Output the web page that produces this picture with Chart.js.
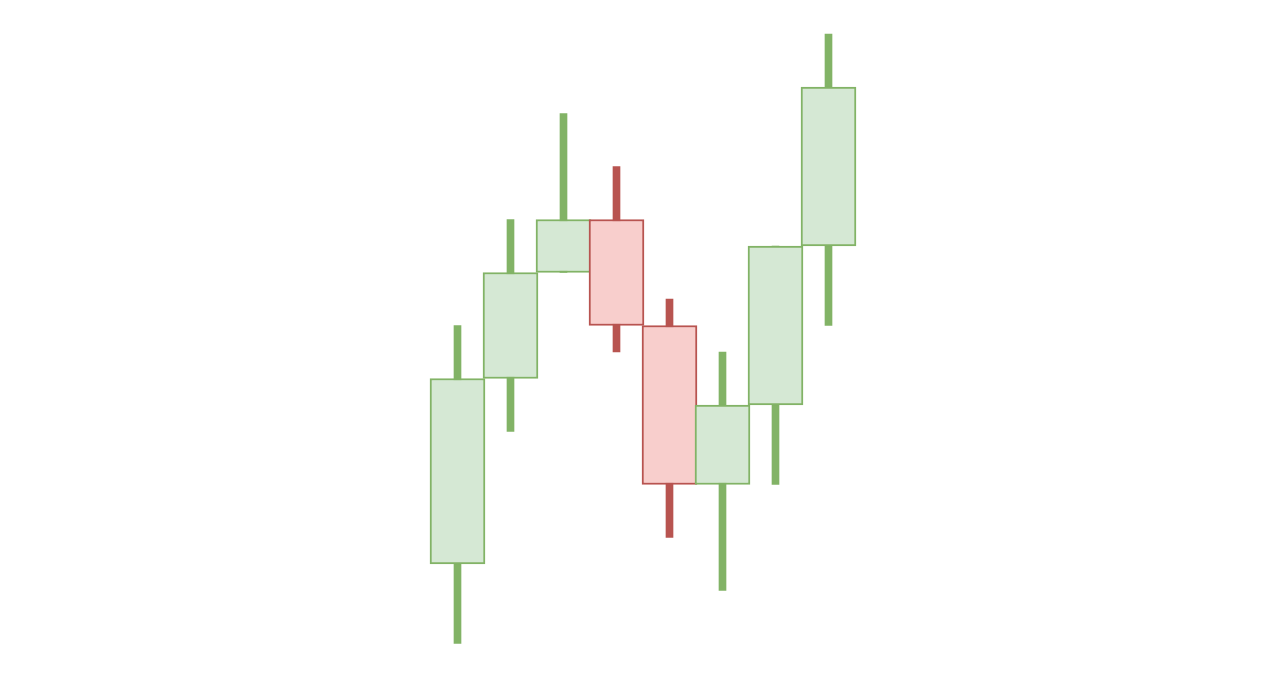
<!DOCTYPE html>
<html>
<head>
<meta charset="utf-8">
<script src="https://cdn.jsdelivr.net/npm/chart.js@4/dist/chart.umd.min.js"></script>
<style>
  html, body { margin: 0; padding: 0; background: #fff; }
  #wrap { width: 1280px; height: 680px; }
</style>
</head>
<body>
<div id="wrap"><canvas id="myChart"></canvas></div>
<script>
'use strict';
// candle values
let days = ['1', '2', '3', '4', '5', '6', '7', '8'];
let openVals  = [5, 12, 16, 18, 14, 8, 11, 17];
let closeVals = [12, 16, 18, 14, 8, 11, 17, 23];
let highVals  = [14, 18, 22, 20, 15, 13, 17, 25];
let lowVals   = [2, 10, 16, 13, 6, 4, 8, 14];

let upLine = '#82b366';
let upFill = '#d5e8d4';
let downLine = '#b85450';
let downFill = '#f8cecc';

let bodies = [];
let wicks = [];
let lineColors = [];
let fillColors = [];
for (let i = 0; i < days.length; i++) {
    bodies.push([openVals[i], closeVals[i]]);
    wicks.push([lowVals[i], highVals[i]]);
    let up = closeVals[i] >= openVals[i];
    lineColors.push(up ? upLine : downLine);
    fillColors.push(up ? upFill : downFill);
}

let chartEl = document.getElementById('myChart').getContext('2d');
let myChart = new Chart(chartEl, {
    type: 'bar',
    data: {
        labels: days,
        datasets: [{
            label: 'wick',
            data: wicks,
            backgroundColor: lineColors,
            borderWidth: 0,
            barThickness: 7,
            grouped: false,
            order: 2
        }, {
            label: 'body',
            data: bodies,
            backgroundColor: fillColors,
            borderColor: lineColors,
            borderWidth: 2,
            borderSkipped: false,
            // a bit wider than the slot so neighbouring borders overlap
            barThickness: 55,
            grouped: false,
            clip: false,
            order: 1
        }]
    },
    options: {
        responsive: true,
        maintainAspectRatio: false,
        animation: false,
        layout: {
            padding: { left: 431, right: 425, top: 7.5, bottom: 10 }
        },
        plugins: {
            legend: { display: false },
            tooltip: { enabled: false }
        },
        scales: {
            x: { display: false, offset: true },
            y: { display: false, min: 1, max: 26 }
        }
    }
});
</script>
</body>
</html>
